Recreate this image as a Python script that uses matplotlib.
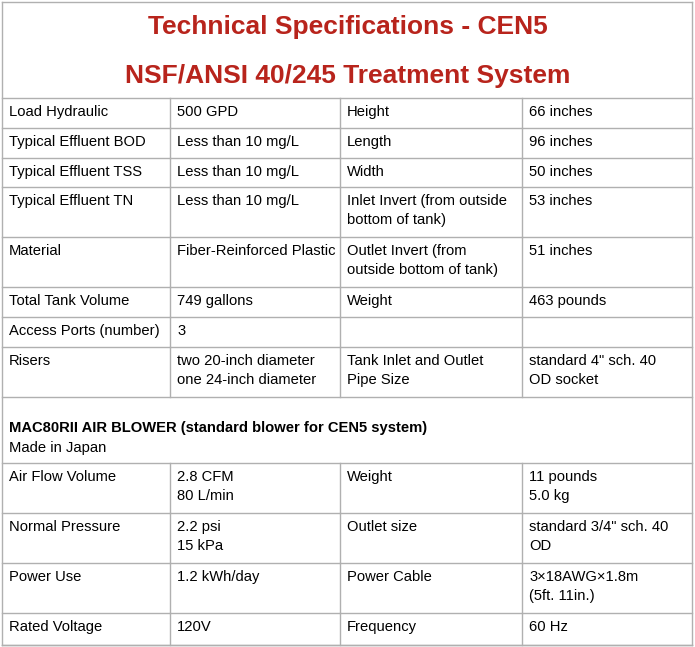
import matplotlib
matplotlib.use("Agg")
import matplotlib.pyplot as plt

title1 = "Technical Specifications - CEN5"
title2 = "NSF/ANSI 40/245 Treatment System"
rows1 = [
    ["Load Hydraulic", "500 GPD", "Height", "66 inches"],
    ["Typical Effluent BOD", "Less than 10 mg/L", "Length", "96 inches"],
    ["Typical Effluent TSS", "Less than 10 mg/L", "Width", "50 inches"],
    ["Typical Effluent TN", "Less than 10 mg/L", "Inlet Invert (from outside\nbottom of tank)", "53 inches"],
    ["Material", "Fiber-Reinforced Plastic", "Outlet Invert (from\noutside bottom of tank)", "51 inches"],
    ["Total Tank Volume", "749 gallons", "Weight", "463 pounds"],
    ["Access Ports (number)", "3", "", ""],
    ["Risers", "two 20-inch diameter\none 24-inch diameter", "Tank Inlet and Outlet\nPipe Size", "standard 4\" sch. 40\nOD socket"],
]
section_title = "MAC80RII AIR BLOWER (standard blower for CEN5 system)"
section_sub = "Made in Japan"
rows2 = [
    ["Air Flow Volume", "2.8 CFM\n80 L/min", "Weight", "11 pounds\n5.0 kg"],
    ["Normal Pressure", "2.2 psi\n15 kPa", "Outlet size", "standard 3/4\" sch. 40\nOD"],
    ["Power Use", "1.2 kWh/day", "Power Cable", "3×18AWG×1.8m\n(5ft. 11in.)"],
    ["Rated Voltage", "120V", "Frequency", "60 Hz"],
]

W, H = 695, 647
fig = plt.figure(figsize=(W/100, H/100), dpi=100)
ax = fig.add_axes([0, 0, 1, 1])
ax.set_xlim(0, W); ax.set_ylim(H, 0); ax.axis("off")
lc = "#b0b0b0"
L, R = 2, 692
colx = [L, 170, 340, 522, R]
font = "Liberation Sans"
fs = 10.6

def hline(y): ax.plot([L, R], [y, y], color=lc, lw=1)
def vline(x, y0, y1): ax.plot([x, x], [y0, y1], color=lc, lw=1)

ax.text(W/2, 27, title1, ha="center", va="center", fontsize=19, fontweight="bold", color="#b8241c", family=font)
ax.text(W/2, 76, title2, ha="center", va="center", fontsize=19, fontweight="bold", color="#b8241c", family=font)

b1 = [98, 128, 158, 187, 237, 287, 317, 347, 397]
sec = (397, 463)
b2 = [463, 513, 563, 613, 645]

hline(2); hline(645)
vline(L, 2, 645); vline(R, 2, 645)

def draw(rows, bounds):
    for i, r in enumerate(rows):
        y0, y1 = bounds[i], bounds[i+1]
        hline(y0)
        for c in range(1, 4):
            vline(colx[c], y0, y1)
        for c, t in enumerate(r):
            ax.text(colx[c] + 7, y0 + 7, t, ha="left", va="top", fontsize=fs, family=font, linespacing=1.45)
    hline(bounds[-1])

draw(rows1, b1)
ax.text(L + 7, sec[0] + 24, section_title, ha="left", va="top", fontsize=fs, fontweight="bold", family=font)
ax.text(L + 7, sec[0] + 44, section_sub, ha="left", va="top", fontsize=fs, family=font)
draw(rows2, b2)

fig.savefig("out.png", dpi=100, facecolor="white")
